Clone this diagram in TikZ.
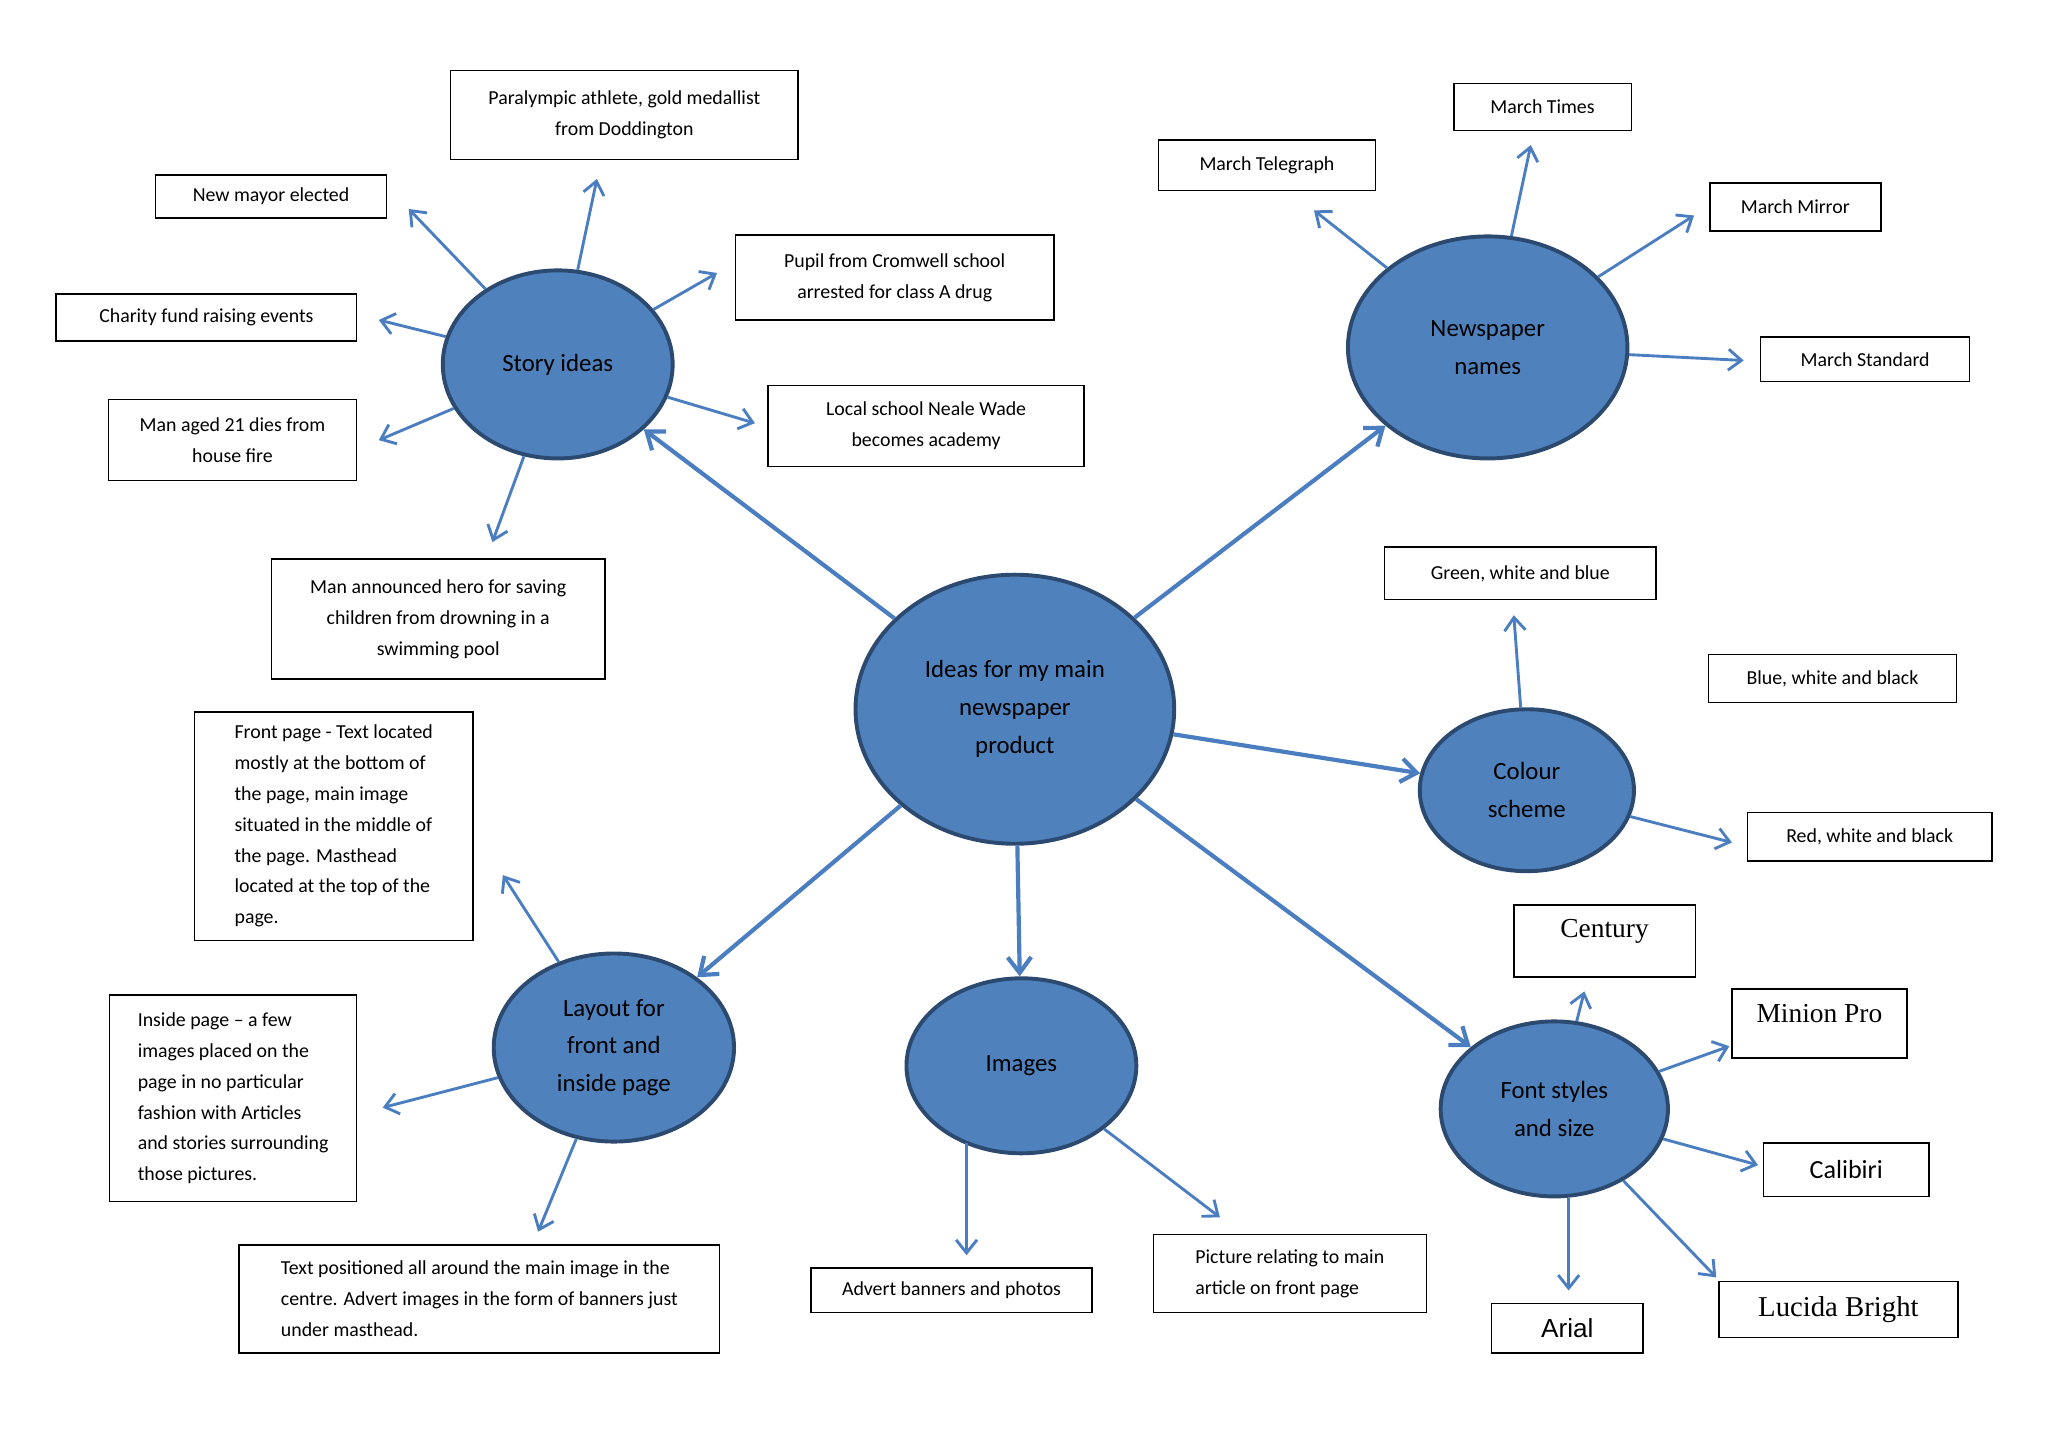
\documentclass[tikz,border=0pt]{standalone}
\usepackage{fontspec}
\setmainfont{Carlito}
\newfontfamily\serifx{Liberation Serif}
\newfontfamily\arialx{Liberation Sans}
\usetikzlibrary{shapes.geometric,arrows.meta}
\definecolor{ellfill}{HTML}{4F81BD}
\definecolor{elldraw}{HTML}{2C4A70}
\definecolor{arr}{HTML}{4A7EC0}
\tikzset{
 ell/.style={ellipse,fill=ellfill,draw=elldraw,line width=1.5pt,font=\fontsize{9.5}{14.5}\selectfont,align=center,inner sep=0pt},
 box/.style={draw=black,line width=0.6pt,font=\fontsize{7.6}{11.8}\selectfont,inner sep=0pt},
 big/.style={arr,line width=1.6pt,-{Straight Barb[length=6pt,width=9pt]}},
 sm/.style={arr,line width=1.1pt,-{Straight Barb[length=5pt,width=8pt]}}
}
\newcommand{\bx}[7]{\node[box,#6,minimum width={(#4-#2)*0.5pt},minimum height={(#5-#3)*0.5pt}] (#1) at ({(#2+#4)/2},{(#3+#5)/2}) {#7};}
\newcommand{\el}[6]{\node[ell,minimum width={#4*0.5pt},minimum height={#5*0.5pt}] (#1) at (#2,#3) {#6};}
\begin{document}
\begin{tikzpicture}[x=0.5pt,y=-0.5pt]
\useasboundingbox (0,0) rectangle (1568,1108.6);
\el{m}{777}{543}{244}{206}{Ideas for my main\\newspaper\\product}
\el{s}{427}{279}{176}{144}{Story ideas}
\el{n}{1139}{266}{214}{170}{Newspaper\\names}
\el{c}{1169}{605}{164}{124}{Colour\\scheme}
\el{f}{1190}{849}{174}{134}{Font styles\\and size}
\el{i}{782}{816}{176}{134}{Images}
\el{l}{470}{802}{184}{144}{Layout for\\front and\\inside page}
\bx{b1}{345}{54}{611}{122}{align=center}{Paralympic athlete, gold medallist\\from Doddington}
\bx{b2}{119}{134}{296}{167}{align=center}{New mayor elected}
\bx{b3}{43}{225}{273}{261}{align=center}{Charity fund raising events}
\bx{b4}{83}{306}{273}{368}{align=center}{Man aged 21 dies from\\house fire}
\bx{b5}{563}{180}{807}{245}{align=center}{Pupil from Cromwell school\\arrested for class A drug}
\bx{b6}{588}{295}{830}{357}{align=center}{Local school Neale Wade\\becomes academy}
\bx{b7}{208}{428}{463}{520}{align=center}{Man announced hero for saving\\children from drowning in a\\swimming pool}
\bx{b8}{149}{545}{362}{720}{align=left}{Front page - Text located\\mostly at the bottom of\\the page, main image\\situated in the middle of\\the page. Masthead\\located at the top of the\\page.}
\bx{b9}{84}{762}{273}{920}{align=left}{Inside page -- a few\\images placed on the\\page in no particular\\fashion with Articles\\and stories surrounding\\those pictures.}
\bx{b10}{183}{953}{551}{1036}{align=left}{Text positioned all around the main image in the\\centre. Advert images in the form of banners just\\under masthead.}
\bx{b11}{621}{971}{836}{1005}{align=center}{Advert banners and photos}
\bx{b12}{883}{945}{1092}{1005}{align=left}{Picture relating to main\\article on front page}
\bx{b13}{887}{107}{1053}{146}{align=center}{March Telegraph}
\bx{b14}{1113}{64}{1249}{100}{align=center}{March Times}
\bx{b15}{1309}{140}{1440}{177}{align=center}{March Mirror}
\bx{b16}{1348}{258}{1508}{292}{align=center}{March Standard}
\bx{b17}{1060}{419}{1268}{459}{align=center}{Green, white and blue}
\bx{b18}{1308}{501}{1498}{538}{align=center}{Blue, white and black}
\bx{b19}{1338}{622}{1525}{659}{align=center}{Red, white and black}
\node[draw,line width=0.6pt,minimum width=69.5pt,minimum height=27.5pt,inner sep=0pt] (b20) at (1228.5,720.5) {};
\node[font=\serifx\fontsize{10.5}{12}\selectfont] (t20) at (1228.5,713) {Century};
\node[draw,line width=0.6pt,minimum width=67pt,minimum height=26.5pt,inner sep=0pt] (b21) at (1393,783.5) {};
\node[font=\serifx\fontsize{10.5}{12}\selectfont] (t21) at (1393,776) {Minion Pro};
\bx{b22}{1350}{875}{1477}{916}{font=\fontsize{10}{12}\selectfont}{Calibiri}
\bx{b23}{1142}{998}{1258}{1036}{font=\arialx\fontsize{10}{12}\selectfont}{Arial}
\bx{b24}{1316}{981}{1499}{1024}{font=\serifx\fontsize{11}{12}\selectfont}{Lucida Bright}
\draw[big] (m) -- (s);
\draw[big] (m) -- (n);
\draw[big] (m) -- (c);
\draw[big] (m) -- (i);
\draw[big] (m) -- (f);
\draw[big] (m) -- (l);
\foreach \nm/\x/\y in {a1/313/160,a2/457/137,a3/549/209,a4/290/245,a5/290/337,a6/578/324,a7/377/415,
 a8/1006/161,a9/1172/111,a10/1297/165,a11/1335/276,a12/1159/471,a13/1326/645,
 a14/1213/759,a15/1324/801,a16/1346/892,a17/1201/988,a18/1314/978,
 a19/740/961,a20/934/932,a21/385/670,a22/293/848,a23/412/943}
 {\coordinate (\nm) at (\x,\y);}
\foreach \e/\t in {s/a1,s/a2,s/a3,s/a4,s/a5,s/a6,s/a7,n/a8,n/a9,n/a10,n/a11,c/a12,c/a13,f/a14,f/a15,f/a16,f/a18,l/a21,l/a22,l/a23,i/a20}
 {\draw[sm] (\e) -- (\t);}
\coordinate (a17s) at (1201,917);
\draw[sm] (a17s) -- (a17);
\coordinate (a19s) at (740,875);
\draw[sm] (a19s) -- (a19);
\end{tikzpicture}
\end{document}
